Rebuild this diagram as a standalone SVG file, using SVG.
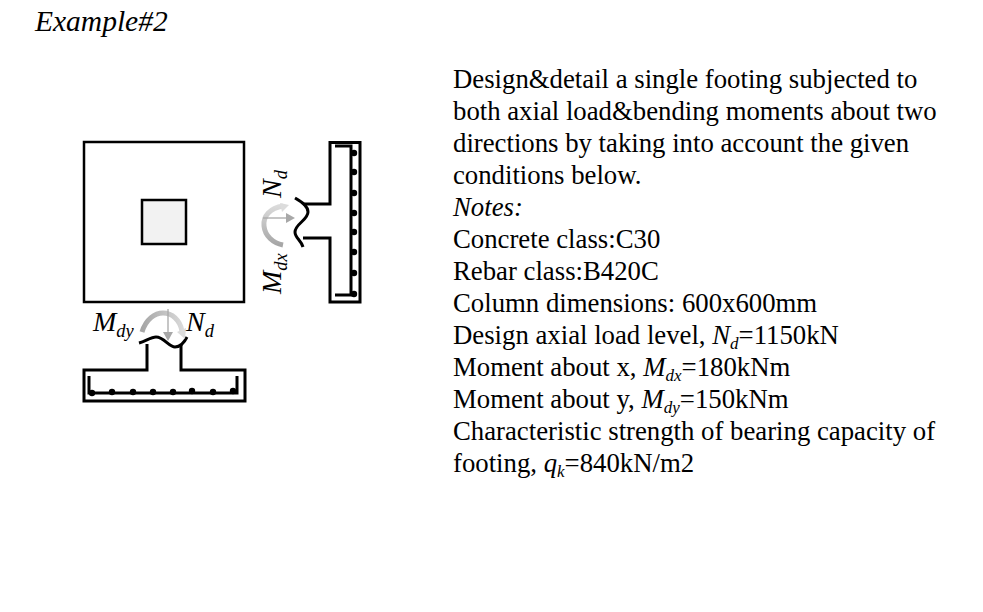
<svg xmlns="http://www.w3.org/2000/svg" width="983" height="612" viewBox="0 0 983 612">
<style>
text{font-family:"Liberation Serif","Times New Roman",serif;fill:#000}
.t{font-size:26.750px}
.i{font-style:italic}
.s{font-size:17px;font-style:italic}
.l{font-size:28px;font-style:italic}
.ls{font-size:18.500px;font-style:italic}
.k{fill:none;stroke:#000;stroke-width:3}
.p{fill:none;stroke:#000;stroke-width:2.500}
.b{fill:none;stroke:#000;stroke-width:3}
.a{stroke:#a8a8a8;stroke-width:1.300;fill:none}
.h{fill:#a8a8a8}
</style>
<defs>
<linearGradient id="gx" gradientUnits="userSpaceOnUse" x1="0" y1="205" x2="0" y2="245"><stop offset="0" stop-color="#dcdcdc"/><stop offset="1" stop-color="#a6a6a6"/></linearGradient>
<linearGradient id="gy" gradientUnits="userSpaceOnUse" x1="142" y1="0" x2="185" y2="0"><stop offset="0" stop-color="#a6a6a6"/><stop offset="1" stop-color="#dcdcdc"/></linearGradient>
</defs>
<rect width="983" height="612" fill="#fff"/>
<text id="title" x="35" y="31" class="i" font-size="29.500">Example#2</text>
<g id="plan">
<rect x="84" y="142" width="160" height="160" class="p"/>
<rect x="142" y="200" width="44" height="44" fill="#f2f2f2" stroke="#000" stroke-width="2.500"/>
</g>
<g id="section-x">
<path class="k" d="M303 204H330V142.500H360V302H330V238H303"/>
<path class="k" d="M295 198C302 202 308 206 308 212C308 220 295 224 295 232C295 238 301 240 303 247"/>
<path class="b" d="M335 146H351V295H335"/>
<g>
<circle cx="354" cy="153" r="3.200"/><circle cx="354" cy="172" r="3.200"/><circle cx="354" cy="193" r="3.200"/><circle cx="354" cy="213" r="3.200"/><circle cx="354" cy="232" r="3.200"/><circle cx="354" cy="252" r="3.200"/><circle cx="354" cy="273" r="3.200"/><circle cx="354" cy="294" r="3.200"/>
</g>
<path fill="none" stroke="url(#gx)" stroke-width="5" d="M283 206C270 208 263 216 264 226C265 236 273 243 283 245"/>
<path fill="#dcdcdc" d="M289 205L282 212L280 203Z"/>
<path class="a" d="M263 218H287"/>
<path class="h" d="M295 218L286 213V223Z"/>
<text class="l" transform="translate(281 294) rotate(-90)">M<tspan class="ls" dy="6">dx</tspan></text>
<text class="l" transform="translate(281 198) rotate(-90)">N<tspan class="ls" dy="6">d</tspan></text>
</g>
<g id="section-y">
<path class="k" d="M147 344V370H84V401H245V370H181V345"/>
<path class="k" d="M139 343C146 341 151 337 156 337C164 337 169 347 175 347C181 347 184 343 187 337"/>
<path class="b" d="M89 376V393H237V376"/>
<g>
<circle cx="92" cy="393" r="3.200"/><circle cx="112" cy="392" r="3.200"/><circle cx="133" cy="392" r="3.200"/><circle cx="153" cy="392" r="3.200"/><circle cx="173" cy="392" r="3.200"/><circle cx="192" cy="391" r="3.200"/><circle cx="213" cy="392" r="3.200"/><circle cx="233" cy="391" r="3.200"/>
</g>
<path fill="none" stroke="url(#gy)" stroke-width="5" d="M142 332C146 319 155 313 163 313C172 313 180 320 182 331"/>
<path fill="#dcdcdc" d="M185 339L177 332L186 328Z"/>
<path class="a" d="M168 309V332"/>
<path class="h" d="M168 341L163 332H173Z"/>
<text class="l" x="93" y="331">M<tspan class="ls" dy="6">dy</tspan></text>
<text class="l" x="186" y="331">N<tspan class="ls" dy="6">d</tspan></text>
</g>
<g id="description" class="t">
<text x="453" y="87.500">Design&amp;detail a single footing subjected to</text>
<text x="453" y="119.500">both axial load&amp;bending moments about two</text>
<text x="453" y="151.500">directions by taking into account the given</text>
<text x="453" y="183.500">conditions below.</text>
<text x="453" y="215.500" class="i">Notes:</text>
<text x="453" y="247.500">Concrete class:C30</text>
<text x="453" y="279.500">Rebar class:B420C</text>
<text x="453" y="311.500">Column dimensions: 600x600mm</text>
<text x="453" y="343.500">Design axial load level, <tspan class="i">N</tspan><tspan class="s" dy="5">d</tspan><tspan dy="-5">=1150kN</tspan></text>
<text x="453" y="375.500">Moment about x, <tspan class="i">M</tspan><tspan class="s" dy="5">dx</tspan><tspan dy="-5">=180kNm</tspan></text>
<text x="453" y="407.500">Moment about y, <tspan class="i">M</tspan><tspan class="s" dy="5">dy</tspan><tspan dy="-5">=150kNm</tspan></text>
<text x="453" y="439.500">Characteristic strength of bearing capacity of</text>
<text x="453" y="471.500">footing, <tspan class="i">q</tspan><tspan class="s" dy="5">k</tspan><tspan dy="-5">=840kN/m2</tspan></text>
</g>
</svg>
